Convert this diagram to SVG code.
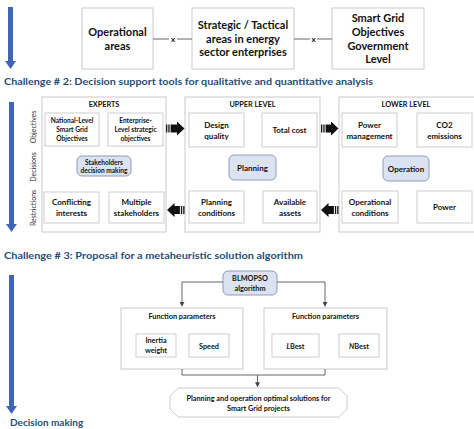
<svg xmlns="http://www.w3.org/2000/svg" width="474" height="429" viewBox="0 0 474 429">
<defs>
<style>
text{font-family:Lato,"Liberation Sans",sans-serif;font-weight:bold;fill:#111;text-anchor:middle}
.box{fill:#fff;stroke:#c9c9c9;stroke-width:1}
.ibox{fill:#fff;stroke:#cdcdcd;stroke-width:1}
.rbox{fill:#dbe3f3;stroke:#8e9cb8;stroke-width:1}
.ln{fill:none;stroke:#666;stroke-width:1}
.blue{fill:#3f66b5}
.blk{fill:#111}
.hdr{font-size:10px;fill:#1f4e79;text-anchor:start}
.t11{font-size:11px}
.t9{font-size:9px}
.t8{font-size:8px}
.t7{font-size:7.3px}
.t6{font-size:6.6px}
.ax{font-size:7px;font-weight:normal;fill:#333}
</style>
<marker id="ah" viewBox="0 0 6 6" refX="5" refY="3" markerWidth="5" markerHeight="5" orient="auto">
<path d="M0,0 L6,3 L0,6 Z" fill="#444"/>
</marker>
</defs>
<rect width="474" height="429" fill="#fff"/>

<!-- vertical blue arrows -->
<g id="timeline">
<path class="blue" d="M8,7 H13 V61 H16 L10.5,69 L5,61 H8 Z"/>
<path class="blue" d="M9,102 H14 V224 H17 L11.5,232 L6,224 H9 Z"/>
<path class="blue" d="M9,275 H14 V406 H17 L11.5,414 L6,406 H9 Z"/>
</g>

<!-- headers -->
<text class="hdr" x="4" y="85" textLength="369" lengthAdjust="spacingAndGlyphs">Challenge # 2: Decision support tools for qualitative and quantitative analysis</text>
<text class="hdr" x="4" y="259" textLength="299" lengthAdjust="spacingAndGlyphs">Challenge # 3: Proposal for a metaheuristic solution algorithm</text>
<text class="hdr" x="10" y="425.5">Decision making</text>

<!-- top row -->
<g id="n-operational">
<rect class="box" x="82" y="8" width="71" height="61"/>
<text class="t11" x="117.5" y="36">Operational</text>
<text class="t11" x="117.5" y="50">areas</text>
</g>
<g id="n-strategic">
<rect class="box" x="192" y="8" width="102" height="61"/>
<text class="t11" x="243" y="29">Strategic / Tactical</text>
<text class="t11" x="243" y="43">areas in energy</text>
<text class="t11" x="243" y="56">sector enterprises</text>
</g>
<g id="n-smartgrid">
<rect class="box" x="332" y="8" width="92" height="61"/>
<text class="t11" x="378" y="22">Smart Grid</text>
<text class="t11" x="378" y="36">Objectives</text>
<text class="t11" x="378" y="50">Government</text>
<text class="t11" x="378" y="63">Level</text>
</g>

<!-- axis labels -->
<g id="axis">
<text class="ax" transform="translate(36,127) rotate(-90)">Objectives</text>
<text class="ax" transform="translate(36,167) rotate(-90)">Decisions</text>
<text class="ax" transform="translate(36,208) rotate(-90)">Restrictions</text>
</g>

<!-- EXPERTS -->
<g id="n-experts">
<rect class="box" x="42" y="97" width="124" height="135"/>
<text class="t7" x="104" y="107">EXPERTS</text>
<rect class="ibox" x="45" y="113" width="54" height="33"/>
<text class="t6" x="72" y="123">National-Level</text>
<text class="t6" x="72" y="132">Smart Grid</text>
<text class="t6" x="72" y="141">Objectives</text>
<rect class="ibox" x="108" y="113" width="55" height="33"/>
<text class="t6" x="135.5" y="123">Enterprise-</text>
<text class="t6" x="135.5" y="132">Level strategic</text>
<text class="t6" x="135.5" y="141">objectives</text>
<rect class="rbox" x="77" y="156" width="54" height="20" rx="5"/>
<text class="t6" x="104" y="164.5">Stakeholders</text>
<text class="t6" x="104" y="173">decision making</text>
<rect class="ibox" x="44" y="192" width="55" height="31"/>
<text class="t8" x="71.5" y="205">Conflicting</text>
<text class="t8" x="71.5" y="216">interests</text>
<rect class="ibox" x="109" y="192" width="55" height="31"/>
<text class="t8" x="136.5" y="205">Multiple</text>
<text class="t8" x="136.5" y="216">stakeholders</text>
</g>

<!-- UPPER LEVEL -->
<g id="n-upper">
<rect class="box" x="185" y="97" width="135" height="135"/>
<text class="t7" x="252.5" y="107">UPPER LEVEL</text>
<rect class="ibox" x="189" y="113" width="55" height="34"/>
<text class="t8" x="216.5" y="128">Design</text>
<text class="t8" x="216.5" y="139">quality</text>
<rect class="ibox" x="262" y="113" width="55" height="34"/>
<text class="t8" x="289.5" y="133">Total cost</text>
<rect class="rbox" x="229" y="155" width="47" height="25" rx="5"/>
<text class="t8" x="252.5" y="170.5">Planning</text>
<rect class="ibox" x="189" y="191" width="55" height="32"/>
<text class="t8" x="216.5" y="205">Planning</text>
<text class="t8" x="216.5" y="216">conditions</text>
<rect class="ibox" x="263" y="191" width="54" height="32"/>
<text class="t8" x="290" y="205">Available</text>
<text class="t8" x="290" y="216">assets</text>
</g>

<!-- LOWER LEVEL -->
<g id="n-lower">
<rect class="box" x="339" y="97" width="140" height="135"/>
<text class="t7" x="406" y="107">LOWER LEVEL</text>
<rect class="ibox" x="342" y="113" width="55" height="34"/>
<text class="t8" x="369.5" y="128">Power</text>
<text class="t8" x="369.5" y="139">management</text>
<rect class="ibox" x="417" y="113" width="55" height="34"/>
<text class="t8" x="444.5" y="128">CO2</text>
<text class="t8" x="444.5" y="139">emissions</text>
<rect class="rbox" x="383" y="156" width="46" height="25" rx="5"/>
<text class="t8" x="406" y="171.5">Operation</text>
<rect class="ibox" x="342" y="191" width="56" height="32"/>
<text class="t8" x="370" y="205">Operational</text>
<text class="t8" x="370" y="216">conditions</text>
<rect class="ibox" x="417" y="191" width="55" height="32"/>
<text class="t8" x="444.5" y="210">Power</text>
</g>

<!-- Section 3 nodes -->
<g id="n-blmopso">
<rect class="rbox" x="223" y="271" width="54" height="24" rx="5"/>
<text class="t7" x="250" y="280.5">BLMOPSO</text>
<text class="t7" x="250" y="290.5">algorithm</text>
</g>
<g id="n-func1">
<rect class="box" x="121" y="308" width="122" height="61"/>
<text class="t7" x="182" y="318.5">Function parameters</text>
<rect class="ibox" x="136" y="334" width="40" height="23"/>
<text class="t7" x="156" y="343">Inertia</text>
<text class="t7" x="156" y="353">weight</text>
<rect class="ibox" x="189" y="334" width="40" height="23"/>
<text class="t7" x="209" y="348.5">Speed</text>
</g>
<g id="n-func2">
<rect class="box" x="264" y="308" width="123" height="61"/>
<text class="t7" x="325.5" y="318.5">Function parameters</text>
<rect class="ibox" x="272" y="334" width="47" height="23"/>
<text class="t7" x="295.5" y="348.5"><tspan font-style="italic">L</tspan>Best</text>
<rect class="ibox" x="339" y="334" width="40" height="23"/>
<text class="t7" x="359" y="348.5"><tspan font-style="italic">N</tspan>Best</text>
</g>
<g id="n-solutions">
<path class="ibox" d="M178,388 H339 L347,396 V409 L339,417 H178 L170,409 V396 Z"/>
<text class="t7" x="258.5" y="400.5">Planning and operation optimal solutions for</text>
<text class="t7" x="258.5" y="411">Smart Grid projects</text>
</g>

<!-- connectors -->
<g id="connectors">
<line class="ln" x1="153" y1="39" x2="169" y2="39"/>
<text class="t8" x="173" y="41.5" font-weight="normal">x</text>
<line class="ln" x1="177" y1="39" x2="192" y2="39"/>
<line class="ln" x1="294" y1="39" x2="310" y2="39"/>
<text class="t8" x="313.5" y="41.5" font-weight="normal">x</text>
<line class="ln" x1="317" y1="39" x2="332" y2="39"/>

<!-- block arrows -->
<path class="blk" d="M166,124.5 H167.3 V132.5 H166 Z M168.3,124.5 H169.6 V132.5 H168.3 Z M170.6,124.5 H177 V121.5 L184.5,128.5 L177,135.5 V132.5 H170.6 Z"/>
<path class="blk" d="M321,124.5 H322.3 V132.5 H321 Z M323.3,124.5 H324.6 V132.5 H323.3 Z M325.6,124.5 H331 V121.5 L338.5,128.5 L331,135.5 V132.5 H325.6 Z"/>
<path class="blk" d="M184.5,206 H183.2 V214 H184.5 Z M182.2,206 H180.9 V214 H182.2 Z M179.9,206 H174.5 V203 L167,210 L174.5,217 V214 H179.9 Z"/>
<path class="blk" d="M338.5,206 H337.2 V214 H338.5 Z M336.2,206 H334.9 V214 H336.2 Z M333.9,206 H328.5 V203 L321,210 L328.5,217 V214 H333.9 Z"/>

<polyline class="ln" points="223,282 182,282 182,306" marker-end="url(#ah)"/>
<polyline class="ln" points="277,282 325,282 325,306" marker-end="url(#ah)"/>
<polyline class="ln" points="182,369 182,375 325,375 325,369"/>
<line class="ln" x1="257.5" y1="375" x2="257.5" y2="386.5" marker-end="url(#ah)"/>
</g>
</svg>
